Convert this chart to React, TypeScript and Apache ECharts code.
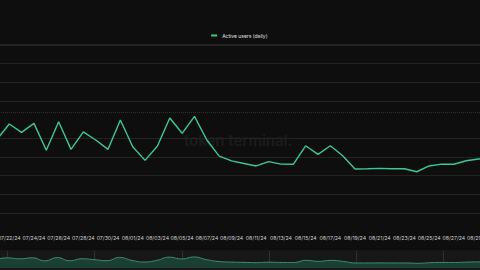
import React, { useEffect, useRef } from "react";
import * as echarts from "echarts";

const dates: string[] = [
  "2024-07-21", "2024-07-22", "2024-07-23", "2024-07-24", "2024-07-25", "2024-07-26", "2024-07-27",
  "2024-07-28", "2024-07-29", "2024-07-30", "2024-07-31", "2024-08-01", "2024-08-02", "2024-08-03",
  "2024-08-04", "2024-08-05", "2024-08-06", "2024-08-07", "2024-08-08", "2024-08-09", "2024-08-10",
  "2024-08-11", "2024-08-12", "2024-08-13", "2024-08-14", "2024-08-15", "2024-08-16", "2024-08-17",
  "2024-08-18", "2024-08-19", "2024-08-20", "2024-08-21", "2024-08-22", "2024-08-23", "2024-08-24",
  "2024-08-25", "2024-08-26", "2024-08-27", "2024-08-28", "2024-08-29", "2024-08-30",
];

const activeUsers: number[] = [
  39400, 47700, 43200, 48000, 33600, 48900, 34100,
  43500, 39100, 34100, 49800, 35500, 28200, 35900,
  50900, 42700, 51800, 39100, 30500, 27900, 26500,
  25200, 27500, 26200, 26100, 36000, 31400, 36000,
  30700, 23600, 23700, 23900, 23700, 23700, 22100,
  25200, 26200, 26100, 28000, 28900, 29500,
];

const seriesName = "Active users (daily)";
const dottedLevel = 54100;
const topLevel = 90000;
const monthNames = ["Jan", "Feb", "Mar", "Apr", "May", "Jun", "Jul", "Aug", "Sep", "Oct", "Nov", "Dec"];

const fmtMain = (v: string) => {
  const [y, m, d] = v.split("-");
  return `${m}/${d}/${y.slice(2)}`;
};
const fmtNav = (v: string) => {
  const [, m, d] = v.split("-");
  return `${parseInt(d, 10)}. ${monthNames[parseInt(m, 10) - 1]}`;
};

// the chart canvas is wider than the window; it starts a little left of it
const SHIFT = 5.15;

export default function App() {
  const ref = useRef<HTMLDivElement>(null);
  useEffect(() => {
    if (!ref.current) return;
    const chart = echarts.init(ref.current, undefined, { renderer: "svg" });
    const gridColors = [
      "#222222", "#222222", "#222222", "#222222", "#222222",
      "rgba(0,0,0,0)", "#222222", "#222222", "#222222", "#2a2a2a",
    ];
    chart.setOption({
      animation: false,
      backgroundColor: "#0e0e0e",
      textStyle: { fontFamily: "Inter" },
      legend: {
        left: 206 + SHIFT,
        top: 28,
        itemWidth: 6,
        itemHeight: 2,
        itemGap: 4,
        icon: "rect",
        textStyle: { color: "#e0e0e0", fontSize: 5, fontFamily: "Inter" },
        data: [seriesName],
      },
      graphic: [
        {
          type: "rect",
          silent: true,
          z: -10,
          shape: { x: 0, y: 250, width: 500, height: 20 },
          style: { fill: "#171717" },
        },
        {
          type: "text",
          silent: true,
          z: -5,
          x: 238 + SHIFT,
          y: 140,
          style: {
            text: "token terminal.",
            fill: "#1c1c1c",
            fontSize: 15,
            fontWeight: 600,
            fontFamily: "Inter",
            align: "center",
            verticalAlign: "middle",
          },
        },
      ],
      grid: [
        { left: 0, right: 0, top: 45, bottom: 57 },
        { left: 0, right: 0, top: 251, bottom: 2 },
      ],
      xAxis: [
        {
          type: "category",
          gridIndex: 0,
          data: dates,
          boundaryGap: false,
          axisLine: { show: false },
          axisTick: { show: false },
          splitLine: { show: false },
          axisLabel: {
            interval: (i: number) => i % 2 === 1,
            formatter: fmtMain,
            color: "#d0d0d0",
            fontSize: 5.2,
            margin: 22,
            fontFamily: "Inter",
          },
        },
        {
          type: "category",
          gridIndex: 1,
          data: dates,
          boundaryGap: false,
          axisLine: { show: false },
          axisTick: { show: false },
          splitLine: {
            show: true,
            interval: (i: number) => i % 7 === 1,
            lineStyle: { color: "#303030", width: 1 },
          },
          axisLabel: {
            inside: true,
            interval: (i: number) => i % 7 === 1,
            formatter: fmtNav,
            color: "#7a7a7a",
            fontSize: 5,
            align: "left",
            padding: [0, 0, 0, 3],
            margin: 1,
            fontFamily: "Inter",
          },
        },
      ],
      yAxis: [
        {
          type: "value",
          gridIndex: 0,
          min: 0,
          max: 90000,
          interval: 10000,
          axisLabel: { show: false },
          axisLine: { show: false },
          axisTick: { show: false },
          splitLine: { show: true, lineStyle: { color: gridColors, width: 1 } },
        },
        {
          type: "value",
          gridIndex: 1,
          min: 0,
          max: 80000,
          axisLabel: { show: false },
          axisLine: { show: false },
          axisTick: { show: false },
          splitLine: { show: false },
        },
      ],
      series: [
        {
          name: seriesName,
          type: "line",
          xAxisIndex: 0,
          yAxisIndex: 0,
          data: activeUsers,
          showSymbol: false,
          symbol: "none",
          color: "#3ac98f",
          lineStyle: { color: "#3ac98f", width: 1.4 },
          markLine: {
            silent: true,
            symbol: "none",
            label: { show: false },
            data: [
              { yAxis: dottedLevel, lineStyle: { type: "dotted", color: "#333333", width: 1 } },
              { yAxis: topLevel, lineStyle: { type: "solid", color: "#242424", width: 2 } },
            ],
          },
        },
        {
          name: "navigator",
          type: "line",
          xAxisIndex: 1,
          yAxisIndex: 1,
          data: activeUsers,
          smooth: true,
          showSymbol: false,
          symbol: "none",
          lineStyle: { color: "#3f8f70", width: 1 },
          areaStyle: { color: "#1b3f32", opacity: 1 },
          silent: true,
        },
      ],
    });
    return () => chart.dispose();
  }, []);
  return (
    <div
      ref={ref}
      style={{ width: 480 + SHIFT + 13, height: 270, position: "fixed", left: -SHIFT, top: 0 }}
    />
  );
}
